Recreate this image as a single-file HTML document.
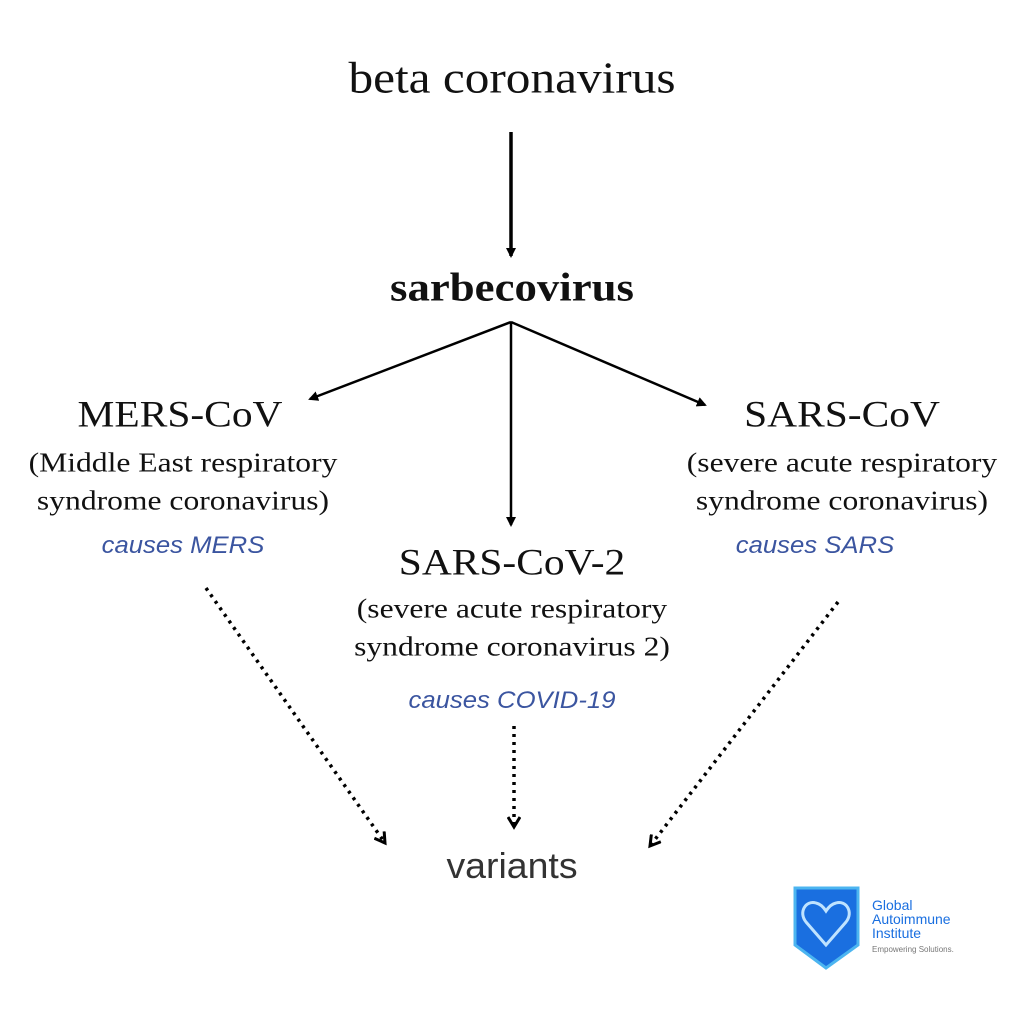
<!DOCTYPE html>
<html><head><style>
body{margin:0;width:1024px;height:1024px;background:#fff;position:relative;overflow:hidden}
.t{position:absolute;transform:translate(-50%,-50%) scaleX(1.12);white-space:nowrap;font-family:"Liberation Serif",serif;color:#111}
.s{transform:translate(-50%,-50%) scaleX(1.17)}
.c{font-family:"Liberation Sans",sans-serif;font-style:italic;color:#3b55a0;font-size:24px;transform:translate(-50%,-50%) scaleX(1.07)}
</style></head><body>
<svg width="1024" height="1024" style="position:absolute;left:0;top:0">
<defs><marker id="a" markerWidth="10" markerHeight="10" refX="8" refY="5" orient="auto" markerUnits="userSpaceOnUse"><path d="M0,0 L10,5 L0,10 z" fill="#000"/></marker>
<marker id="b" markerWidth="14" markerHeight="14" refX="11" refY="7" orient="auto" markerUnits="userSpaceOnUse"><path d="M1,1 L11,7 L1,13" fill="none" stroke="#000" stroke-width="3"/></marker></defs>
<line x1="511" y1="132" x2="511" y2="256" stroke="#000" stroke-width="3.5" marker-end="url(#a)"/>
<line x1="511" y1="322" x2="310" y2="399" stroke="#000" stroke-width="2.5" marker-end="url(#a)"/>
<line x1="511" y1="322" x2="705" y2="405" stroke="#000" stroke-width="2.5" marker-end="url(#a)"/>
<line x1="511" y1="322" x2="511" y2="525" stroke="#000" stroke-width="2.5" marker-end="url(#a)"/>
<g stroke="#000" stroke-width="3.5" stroke-dasharray="3 5" fill="none">
<line x1="206" y1="588" x2="385" y2="843" marker-end="url(#b)"/>
<line x1="514" y1="726" x2="514" y2="827" marker-end="url(#b)"/>
<line x1="838" y1="602" x2="650" y2="846" marker-end="url(#b)"/>
</g>
<path d="M795,888 H858 V945 L826,968 L795,945 Z" fill="#1a6fe0" stroke="#4cb5f0" stroke-width="3"/>
<path d="M826,945 L806,922 C798,912 806,900 816,903 C821,904 824,908 826,911 C828,908 831,904 836,903 C846,900 854,912 846,922 Z" fill="none" stroke="#bfe3ff" stroke-width="3"/>
</svg>
<div class="t" style="left:512px;top:78px;font-size:44px">beta coronavirus</div>
<div class="t" style="left:512px;top:287px;font-size:40px;font-weight:bold">sarbecovirus</div>
<div class="t" style="left:180px;top:415px;font-size:37px">MERS-CoV</div>
<div class="t s" style="left:183px;top:463px;font-size:27px">(Middle East respiratory</div>
<div class="t s" style="left:183px;top:501px;font-size:27px">syndrome coronavirus)</div>
<div class="t c" style="left:183px;top:546px">causes MERS</div>
<div class="t" style="left:842px;top:415px;font-size:37px">SARS-CoV</div>
<div class="t s" style="left:842px;top:463px;font-size:27px">(severe acute respiratory</div>
<div class="t s" style="left:842px;top:501px;font-size:27px">syndrome coronavirus)</div>
<div class="t c" style="left:815px;top:546px">causes SARS</div>
<div class="t" style="left:512px;top:563px;font-size:37px">SARS-CoV-2</div>
<div class="t s" style="left:512px;top:609px;font-size:27px">(severe acute respiratory</div>
<div class="t s" style="left:512px;top:647px;font-size:27px">syndrome coronavirus 2)</div>
<div class="t c" style="left:512px;top:701px">causes COVID-19</div>
<div class="t" style="left:512px;top:866px;font-size:36px;font-family:'Liberation Sans',sans-serif;color:#333;transform:translate(-50%,-50%) scaleX(1.04)">variants</div>
<div style="position:absolute;left:872px;top:898px;font-family:'Liberation Sans',sans-serif;color:#1a6fe0;font-size:14px;line-height:14px">Global<br>Autoimmune<br>Institute</div>
<div style="position:absolute;left:872px;top:945px;font-family:'Liberation Sans',sans-serif;color:#777;font-size:8px">Empowering Solutions.</div>
</body></html>
